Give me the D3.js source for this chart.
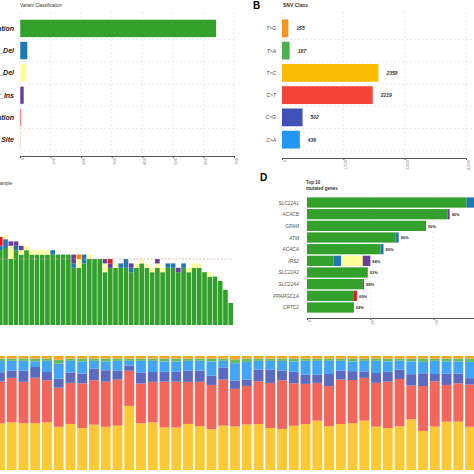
<!DOCTYPE html>
<html><head><meta charset="utf-8">
<script src="https://cdn.jsdelivr.net/npm/d3@7"></script>
<style>body{margin:0;background:#fff}svg{display:block;font-family:"Liberation Sans",Arial,sans-serif}</style>
</head><body><div id="chart"></div>
<script>
// A: variant classification
const vcNames = ["Missense_Mutation","Frame_Shift_Del","In_Frame_Del","Frame_Shift_Ins","Nonsense_Mutation","Splice_Site"];
const vcCounts = [642, 25, 22, 13, 5, 3];
const vcColors = ["#33a02c","#1f78b4","#ffff99","#6a3d9a","#e8676b","#f4c7a8"];
const vcTicks = [0,100,200,300,400,500,600,700];

// B: SNV class
const snvNames = ["T>G","T>A","T>C","C>T","C>G","C>A"];
const snvCounts = [155, 187, 2358, 2219, 502, 436];
const snvColors = ["#f7941d","#4caf50","#fbbc05","#f44336","#3f51b5","#2196f3"];
const snvTicks = [0,1500,3000,4500];

// C: variants per sample (stacked)
const sampMissense = [17,17.5,15,17,16,17,16,16,16,16,16,16,16,16,13,13,14,15,15,15,12,13,13,13,13,12,13,14,13,12,13,12,13,13,12,13,12,13,13,12,11,11,10,8,5];
const sampFsDel   = [1,2,0,1,0,0,0,0,0,0,1,0,0,0,1,0,2,0,0,0,0,0,0,1,2,1,0,0,0,0,0,0,1,1,0,1,0,0,0,0,0,0,0,0,0];
const sampInDel   = [0,1,3,0,1,1,1,1,1,1,0,0,0,0,0,2,0,1,0,0,2,0,1,0,0,0,1,1,1,1,1,1,0,0,0,0,1,1,1,0,1,0,0,0,0];
const sampFsIns   = [0,0,1,1,1,0,0,0,0,0,0,0,0,0,2,0,0,0,0,0,1,1,0,0,0,1,0,0,0,0,1,0,0,0,1,0,0,0,0,0,0,0,0,0,0];
const sampNonsense= [2,0,0,0,0,0,0,0,0,0,0,0,0,0,0,0,0,0,0,0,0,1,0,0,0,0,0,0,0,0,0,0,0,0,0,0,0,0,0,0,0,0,0,0,0];
const sampSplice  = [0,0,0,0,0,0,0,0,0,0,0,0,0,0,0,1,0,0,0,0,0,0,0,0,0,0,0,0,0,0,0,0,0,0,0,0,0,0,0,0,0,0,0,0,0];
const sampMedian = 15;

// D: top 10 genes
const genes = ["SLC22A1","ACACB","GPAM","ATM","ACACA","IRS2","SLC22A2","SLC22A4","PPARGC1A","CRTC2"];
const genePct = ["","96%","96%","96%","89%","84%","93%","88%","69%","64%"];
const geneMissense = [63,55.5,47,35,29,10.5,24,22,18.5,18.5];
const geneFsDel    = [4,0,0,1.2,1.2,3,0,0,0,0];
const geneInDel    = [0,0,0,0,0,8.5,0,0,0,0];
const geneFsIns    = [0,0.8,0,0,0,3,0,0.5,0,0];
const geneNonsense = [0,0,0,0,0,0,0,0,1.2,0];
const geneTicks = [0,25,50,75];

// E: SNV fraction per sample (%)
const eYellow = [41.4,42.3,41.4,41.7,42.3,39.4,40.8,37.3,40.2,38.5,39.4,56.9,41.4,42.3,37.9,37.9,40.8,38.8,36.4,39.4,39.4,40.8,40.8,37.3,36.4,39.4,40.8,43.7,38.8,40.8,41.7,43.7,38.5,37.3,38.8,45.2,35,38.5,43.1,43.1,38.8];
const eRed    = [37.3,39.4,36.7,40.5,37.3,35.6,36.4,39.9,39.4,40.2,40.8,31.2,35.3,35.9,40.8,40.8,37.3,39.4,39.4,40.8,34.1,34.4,37.9,39.9,43.1,37.9,35.6,33.5,35.6,39.4,38.5,37.9,38.8,41.4,42,30,40.2,40.2,32.7,34.1,37.9];
const eIndigo = [8.2,6.4,9.9,9.6,7.3,8.2,9.3,8.7,10.2,10.2,8.2,4.7,9.9,8.7,8.7,8.7,9.9,9.9,8.2,10.8,7.6,5.8,10.2,11.7,8.7,10.2,8.2,7.3,10.8,7.9,7.9,5.8,8.7,8.7,8.2,10.2,11.4,6.4,10.2,8.7,5.8];
const eBlue   = [9.9,8.7,8.7,5,9.9,13.7,10.2,10.8,7,7.9,8.5,4.1,10.2,9.9,9.3,9.3,8.7,8.7,12.8,5.8,15.7,15.7,7.9,7.9,8.5,9.3,12.2,12.2,11.7,8.7,8.7,9.3,10.8,9.3,7.9,11.4,10.2,11.7,10.8,10.8,14.6];
const eGreen  = [2.2,2,2,2.5,2,3.5,2,2.5,2,2.5,2,2,2,2,2.5,2.5,2,2,2.5,2,3.5,3,2,2,2,2.5,2,2,2,2,2.5,2,2,2.5,2,2.5,3,2,2.5,2.5,3];
const eOrange = [2.3,2.3,2.3,2.3,2.3,3.5,2.3,2.3,2.3,2.3,2.3,2.3,2.3,2.3,2.3,2.3,2.3,2.3,2.3,2.3,3,2.3,2.3,2.3,2.3,2.3,2.3,2.3,2.3,2.3,2.3,2.3,2.3,2.3,2.3,2.3,2.3,2.3,2.3,2.3,2.3];

const svg = d3.select("#chart").append("svg").attr("width",474).attr("height",474);
const grid = "#dcdcdc";

function dashedGrid(g, x, ticks, y0, y1){
  g.selectAll(null).data(ticks).enter().append("line")
    .attr("x1",x).attr("x2",x).attr("y1",y0).attr("y2",y1)
    .attr("stroke",grid).attr("stroke-width",0.6).attr("stroke-dasharray","2,2");
}
function rotAxis(g, scale, ticks, y){
  const ax = g.append("g").attr("transform",`translate(0,${y})`)
    .call(d3.axisBottom(scale).tickValues(ticks).tickSize(2));
  ax.select(".domain").attr("stroke","#555");
  ax.selectAll("text").attr("font-size",4).attr("fill","#777")
    .attr("transform","rotate(-90)").attr("text-anchor","end").attr("dx","-2").attr("dy","-1.5");
  ax.selectAll(".tick line").attr("stroke","#555");
}

// ---- A ----
const gA = svg.append("g");
const xA = d3.scaleLinear().domain([0,700]).range([20,234]);
const yA = d3.scaleBand().domain(vcNames).range([15,153]).padding(0.2);
gA.append("text").attr("x",20).attr("y",7).attr("font-size",4.5).attr("fill","#333").text("Variant Classification");
dashedGrid(gA, d => xA(d), vcTicks, 12, 155);
gA.selectAll(null).data(vcNames).enter().append("line")
  .attr("x1",20).attr("x2",234).attr("y1",d=>yA(d)+yA.bandwidth()/2+yA.step()/2).attr("y2",d=>yA(d)+yA.bandwidth()/2+yA.step()/2)
  .attr("stroke",grid).attr("stroke-width",0.6).attr("stroke-dasharray","2,2");
gA.selectAll("rect").data(vcNames).enter().append("rect")
  .attr("x",xA(0)).attr("y",d=>yA(d)).attr("height",yA.bandwidth())
  .attr("width",(d,i)=>xA(vcCounts[i])-xA(0)).attr("fill",(d,i)=>vcColors[i])
  .attr("stroke","#fff").attr("stroke-width",0.5);
gA.selectAll(".lab").data(vcNames).enter().append("text")
  .attr("x",14).attr("y",d=>yA(d)+yA.bandwidth()/2+2.5).attr("text-anchor","end")
  .attr("font-size",7).attr("font-weight","bold").attr("font-style","italic").attr("fill","#222").text(d=>d);
rotAxis(gA, xA, vcTicks, 156);

// ---- B ----
const gB = svg.append("g");
const xB = d3.scaleLinear().domain([0,4500]).range([282,466]);
const yB = d3.scaleBand().domain(snvNames).range([15,153]).padding(0.2);
gB.append("text").attr("x",253).attr("y",9).attr("font-size",10).attr("font-weight","bold").text("B");
gB.append("text").attr("x",283).attr("y",7).attr("font-size",5).attr("font-weight","bold").attr("fill","#333").text("SNV Class");
dashedGrid(gB, d => xB(d), snvTicks, 12, 157);
gB.selectAll(null).data(snvNames).enter().append("line")
  .attr("x1",282).attr("x2",474).attr("y1",d=>yB(d)+yB.bandwidth()+yB.step()*0.1).attr("y2",d=>yB(d)+yB.bandwidth()+yB.step()*0.1)
  .attr("stroke",grid).attr("stroke-width",0.6).attr("stroke-dasharray","2,2");
gB.selectAll("rect").data(snvNames).enter().append("rect")
  .attr("x",xB(0)).attr("y",d=>yB(d)).attr("height",yB.bandwidth())
  .attr("width",(d,i)=>xB(snvCounts[i])-xB(0)).attr("fill",(d,i)=>snvColors[i]);
gB.selectAll(".lab").data(snvNames).enter().append("text")
  .attr("x",276).attr("y",d=>yB(d)+yB.bandwidth()/2+2).attr("text-anchor","end")
  .attr("font-size",5).attr("font-style","italic").attr("fill","#444").text(d=>d);
gB.selectAll(".val").data(snvNames).enter().append("text")
  .attr("x",(d,i)=>xB(snvCounts[i])+8).attr("y",d=>yB(d)+yB.bandwidth()/2+2)
  .attr("font-size",5).attr("font-weight","bold").attr("font-style","italic").attr("fill","#333").text((d,i)=>snvCounts[i]);
rotAxis(gB, xB, snvTicks, 158);

// ---- C ----
const gC = svg.append("g");
const samples = d3.range(sampMissense.length);
const cKeys = ["m","fd","id","fi","n","s"];
const cColors = ["#33a02c","#1f78b4","#ffff99","#6a3d9a","#e31a1c","#ff7f00"];
const cRows = samples.map(i=>({m:sampMissense[i],fd:sampFsDel[i],id:sampInDel[i],fi:sampFsIns[i],n:sampNonsense[i],s:sampSplice[i]}));
const xC = d3.scaleBand().domain(samples).range([-2,233]).paddingInner(0.12);
const yC = d3.scaleLinear().domain([0,25]).range([325,215]);
gC.append("text").attr("x",12).attr("y",185).attr("text-anchor","end").attr("font-size",4.5).attr("fill","#333").text("Variants per sample");
d3.stack().keys(cKeys)(cRows).forEach((layer,k)=>{
  gC.selectAll(null).data(layer).enter().append("rect")
    .attr("x",(d,i)=>xC(i)).attr("width",xC.bandwidth())
    .attr("y",d=>yC(d[1])).attr("height",d=>yC(d[0])-yC(d[1])).attr("fill",cColors[k]);
});
gC.append("line").attr("x1",0).attr("x2",232).attr("y1",yC(sampMedian)).attr("y2",yC(sampMedian))
  .attr("stroke","#c9a0a0").attr("stroke-width",0.7).attr("stroke-dasharray","2,1.5");

// ---- D ----
const gD = svg.append("g");
const xD = d3.scaleLinear().domain([0,75]).range([307,497]);
const yD = d3.scaleBand().domain(genes).range([196,314]).padding(0.12);
gD.append("text").attr("x",260).attr("y",181).attr("font-size",10).attr("font-weight","bold").text("D");
gD.append("text").attr("x",306).attr("y",184).attr("font-size",4.5).attr("font-weight","bold").attr("fill","#333").text("Top 10");
gD.append("text").attr("x",306).attr("y",190).attr("font-size",4.5).attr("font-weight","bold").attr("fill","#333").text("mutated genes");
dashedGrid(gD, d => xD(d), geneTicks, 196, 317);
const dRows = genes.map((g,i)=>({m:geneMissense[i],fd:geneFsDel[i],id:geneInDel[i],fi:geneFsIns[i],n:geneNonsense[i]}));
d3.stack().keys(["m","fd","id","fi","n"])(dRows).forEach((layer,k)=>{
  gD.selectAll(null).data(layer).enter().append("rect")
    .attr("y",(d,i)=>yD(genes[i])).attr("height",yD.bandwidth())
    .attr("x",d=>xD(d[0])).attr("width",d=>xD(d[1])-xD(d[0])).attr("fill",cColors[k]);
});
gD.selectAll(".lab").data(genes).enter().append("text")
  .attr("x",299).attr("y",d=>yD(d)+yD.bandwidth()/2+2).attr("text-anchor","end")
  .attr("font-size",4.8).attr("font-style","italic").attr("fill","#555").text(d=>d);
gD.selectAll(".val").data(genes).enter().append("text")
  .attr("x",(d,i)=>xD(geneMissense[i]+geneFsDel[i]+geneInDel[i]+geneFsIns[i]+geneNonsense[i])+2)
  .attr("y",d=>yD(d)+yD.bandwidth()/2+1.8)
  .attr("font-size",4).attr("font-weight","bold").attr("fill","#333").text((d,i)=>genePct[i]);
rotAxis(gD, xD, geneTicks, 318);

// ---- E ----
const gE = svg.append("g");
const eIdx = d3.range(eYellow.length);
const eRows = eIdx.map(i=>({y:eYellow[i],r:eRed[i],i:eIndigo[i],b:eBlue[i],g:eGreen[i],o:eOrange[i]}));
const eColors = ["#fbc935","#f2665c","#5c6bc0","#42a5f5","#66bb6a","#f5a623"];
const xE = d3.scaleBand().domain(eIdx).range([-5,475]).paddingInner(0.16);
const yE = d3.scaleLinear().domain([0,1]).range([470,356]);
d3.stack().keys(["y","r","i","b","g","o"]).offset(d3.stackOffsetExpand)(eRows).forEach((layer,k)=>{
  gE.selectAll(null).data(layer).enter().append("rect")
    .attr("x",(d,i)=>xE(i)).attr("width",xE.bandwidth())
    .attr("y",d=>yE(d[1])).attr("height",d=>yE(d[0])-yE(d[1])).attr("fill",eColors[k]);
});
</script></body></html>
